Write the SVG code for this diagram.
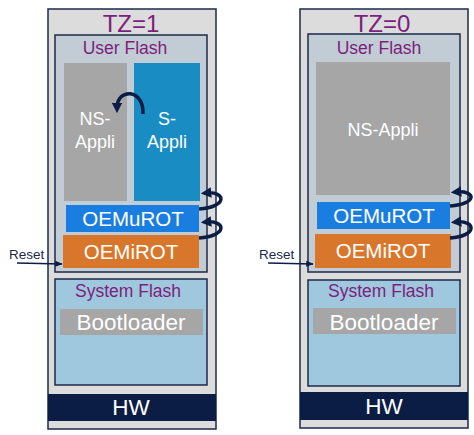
<svg xmlns="http://www.w3.org/2000/svg" width="474" height="435" viewBox="0 0 474 435">
<style>
.outer{fill:#dcdcdc;stroke:#1c2a4a;stroke-width:1.5}
.uf{fill:#c2ccd4;stroke:#1c2a4a;stroke-width:1.5}
.sf{fill:#9fc8de;stroke:#1c2a4a;stroke-width:1.5}
.ns{fill:#a6a6a6}
.s{fill:#1a8cc4}
.mu{fill:#1a7ee0}
.mi{fill:#d8772c}
.bl{fill:#a6a6a6}
.hw{fill:#0b1d44}
text{font-family:"Liberation Sans",Arial,sans-serif;text-anchor:middle}
.title{fill:#7d1f7c;font-size:24px}
.sub{fill:#7d1f7c;font-size:17.5px}
.w{fill:#ffffff;font-size:18px}
.rot{fill:#ffffff;font-size:20.5px}
.wl{fill:#ffffff;font-size:22.5px}
.reset{fill:#1c2a4a;font-size:13.5px;text-anchor:start}
.arc{fill:none;stroke:#0b1d44;stroke-width:3.5}
.ln{fill:none;stroke:#0b1d44;stroke-width:1.5}
</style>
<defs>
<marker id="ah" viewBox="0 0 10 10" refX="5" refY="5" markerWidth="3" markerHeight="3" orient="auto-start-reverse">
<path d="M0,0 L10,5 L0,10 z" fill="#0b1d44"/>
</marker>
<marker id="ah2" viewBox="0 0 10 10" refX="9" refY="5" markerWidth="5" markerHeight="5" orient="auto">
<path d="M0,1 L10,5 L0,9 z" fill="#0b1d44"/>
</marker>
</defs>
<g id="panel-tz1">
<rect class="outer" x="48" y="9" width="168" height="420"/>
<text class="title" x="131" y="32">TZ=1</text>
<g id="user-flash-1">
<rect class="uf" x="55" y="35" width="152" height="237"/>
<text class="sub" x="125" y="54">User Flash</text>
</g>
<g id="ns-appli-1">
<rect class="ns" x="64" y="63" width="63" height="138"/>
<text class="w" x="95" y="125">NS-</text>
<text class="w" x="95" y="148">Appli</text>
</g>
<g id="s-appli-1">
<rect class="s" x="134" y="63" width="66" height="138"/>
<text class="w" x="167" y="125">S-</text>
<text class="w" x="167" y="148">Appli</text>
</g>
<g id="oemurot-1">
<rect class="mu" x="66" y="205" width="133" height="27"/>
<text class="rot" x="133" y="226">OEMuROT</text>
</g>
<g id="oemirot-1">
<rect class="mi" x="63" y="235" width="136" height="33"/>
<text class="rot" x="131" y="259">OEMiROT</text>
</g>
<g id="system-flash-1">
<rect class="sf" x="55" y="279" width="152" height="106"/>
<text class="sub" x="128" y="297">System Flash</text>
</g>
<g id="bootloader-1">
<rect class="bl" x="60" y="309" width="143" height="26"/>
<text class="wl" x="131" y="330">Bootloader</text>
</g>
<g id="hw-1">
<rect class="hw" x="48" y="394" width="168" height="27"/>
<text class="wl" x="131" y="415">HW</text>
</g>
<text class="reset" x="9" y="259">Reset</text>
</g>
<g id="panel-tz0">
<rect class="outer" x="300" y="9" width="168" height="419"/>
<text class="title" x="382" y="32">TZ=0</text>
<g id="user-flash-0">
<rect class="uf" x="308" y="34" width="152" height="238"/>
<text class="sub" x="379" y="54">User Flash</text>
</g>
<g id="ns-appli-0">
<rect class="ns" x="316" y="62" width="134" height="133"/>
<text class="w" x="383" y="136">NS-Appli</text>
</g>
<g id="oemurot-0">
<rect class="mu" x="317" y="202" width="133" height="27"/>
<text class="rot" x="384" y="223">OEMuROT</text>
</g>
<g id="oemirot-0">
<rect class="mi" x="315" y="234" width="136" height="34"/>
<text class="rot" x="383" y="258">OEMiROT</text>
</g>
<g id="system-flash-0">
<rect class="sf" x="308" y="280" width="152" height="106"/>
<text class="sub" x="381" y="297">System Flash</text>
</g>
<g id="bootloader-0">
<rect class="bl" x="313" y="308" width="143" height="26"/>
<text class="wl" x="384" y="330">Bootloader</text>
</g>
<g id="hw-0">
<rect class="hw" x="300" y="392" width="168" height="28"/>
<text class="wl" x="384" y="414">HW</text>
</g>
<text class="reset" x="259" y="259">Reset</text>
</g>
<g id="connectors">
<path class="arc" d="M143,114 C144,88 117,88 117,108" marker-end="url(#ah)"/>
<path class="arc" d="M199,209 C228,207 226,191 206,193" marker-end="url(#ah)"/>
<path class="arc" d="M199,238 C228,236 226,220 206,222" marker-end="url(#ah)"/>
<path class="arc" d="M450,206 C478,204 476,190 456,192" marker-end="url(#ah)"/>
<path class="arc" d="M450,238 C478,236 476,220 456,222" marker-end="url(#ah)"/>
<path class="ln" d="M17,263 L62,264" marker-end="url(#ah2)"/>
<path class="ln" d="M268,263 L313,264" marker-end="url(#ah2)"/>
</g>
</svg>
